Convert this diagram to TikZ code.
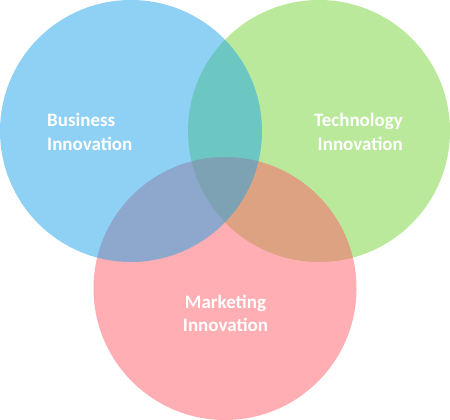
\documentclass[tikz,border=0pt]{standalone}
\usepackage{fontspec}
\setmainfont{Carlito}
\usepackage{tikz}
\definecolor{bizblue}{RGB}{31,163,233}
\definecolor{techgreen}{RGB}{119,211,55}
\definecolor{mktpink}{RGB}{255,93,103}

\begin{document}
\begin{tikzpicture}[x=1pt, y=-1pt, area/.style={fill opacity=0.5}, innolabel/.style={text=white, inner sep=0pt, font=\bfseries\fontsize{19}{23.5}\selectfont}]
    \useasboundingbox (0,0) rectangle (450,420);
    \fill[techgreen, area] (319,131) circle (131pt);
    \fill[mktpink, area] (225,288.5) circle (131.5pt);
    \fill[bizblue, area] (131,131) circle (131pt);
    \node[innolabel, align=left, anchor=west] (biz) at (47,132) {Business\\Innovation};
    \node[innolabel, align=right, anchor=east] (tech) at (403,132) {Technology\\Innovation};
    \node[innolabel, align=center] (mkt) at (225.5,313.5) {Marketing\\Innovation};
\end{tikzpicture}
\end{document}
